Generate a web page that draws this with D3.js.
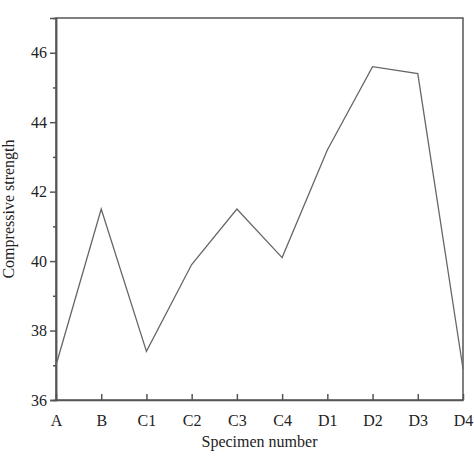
<!DOCTYPE html><html><head><script src="https://d3js.org/d3.v7.min.js"></script>
<style>body{margin:0;background:#fff}text{font-family:"Liberation Serif","DejaVu Serif",serif;fill:#222}</style></head><body><svg id="c" width="474" height="474"></svg>
<script>
const categories=["A","B","C1","C2","C3","C4","D1","D2","D3","D4"];
const values=[37.0,41.5,37.4,39.9,41.5,40.1,43.2,45.6,45.4,36.9];
const yTicks=[36,38,40,42,44,46];
const svg=d3.select("#c");
const L=56,R=463,T=18,B=400;
const x=d3.scalePoint().domain(categories).range([L,R]);
const y=d3.scaleLinear().domain([36,47]).range([B,T]);
const col="#555";
svg.append("rect").attr("x",L).attr("y",T).attr("width",R-L).attr("height",B-T).attr("fill","none").attr("stroke",col).attr("stroke-width",1.5);
const ya=svg.append("g").attr("transform",`translate(${L},0)`).call(d3.axisLeft(y).tickValues(yTicks).tickSize(6).tickFormat(d3.format("d")));
svg.append("g").attr("transform",`translate(${L},0)`).call(d3.axisLeft(y).tickValues(d3.range(37,47,2)).tickSize(3).tickFormat("")).call(g=>g.selectAll("line,.domain").attr("stroke",col).attr("stroke-width",1.5));
const xa=svg.append("g").attr("transform",`translate(0,${B})`).call(d3.axisBottom(x).tickSizeInner(-6).tickSizeOuter(0).tickPadding(15));
[ya,xa].forEach(g=>{g.select(".domain").attr("stroke",col).attr("stroke-width",1.5);g.selectAll("line").attr("stroke",col).attr("stroke-width",1.5);g.selectAll("text").attr("font-size",16).attr("fill","#222").attr("font-family","Liberation Serif");});
svg.append("path").datum(values).attr("fill","none").attr("stroke","#666").attr("stroke-width",1.3)
 .attr("d",d3.line().x((d,i)=>x(categories[i])).y(d=>y(d)));
svg.append("text").attr("x",(L+R)/2).attr("y",447).attr("text-anchor","middle").attr("font-size",16).text("Specimen number");
svg.append("text").attr("transform",`translate(14,${(T+B)/2}) rotate(-90)`).attr("text-anchor","middle").attr("font-size",16).text("Compressive strength");
</script></body></html>
